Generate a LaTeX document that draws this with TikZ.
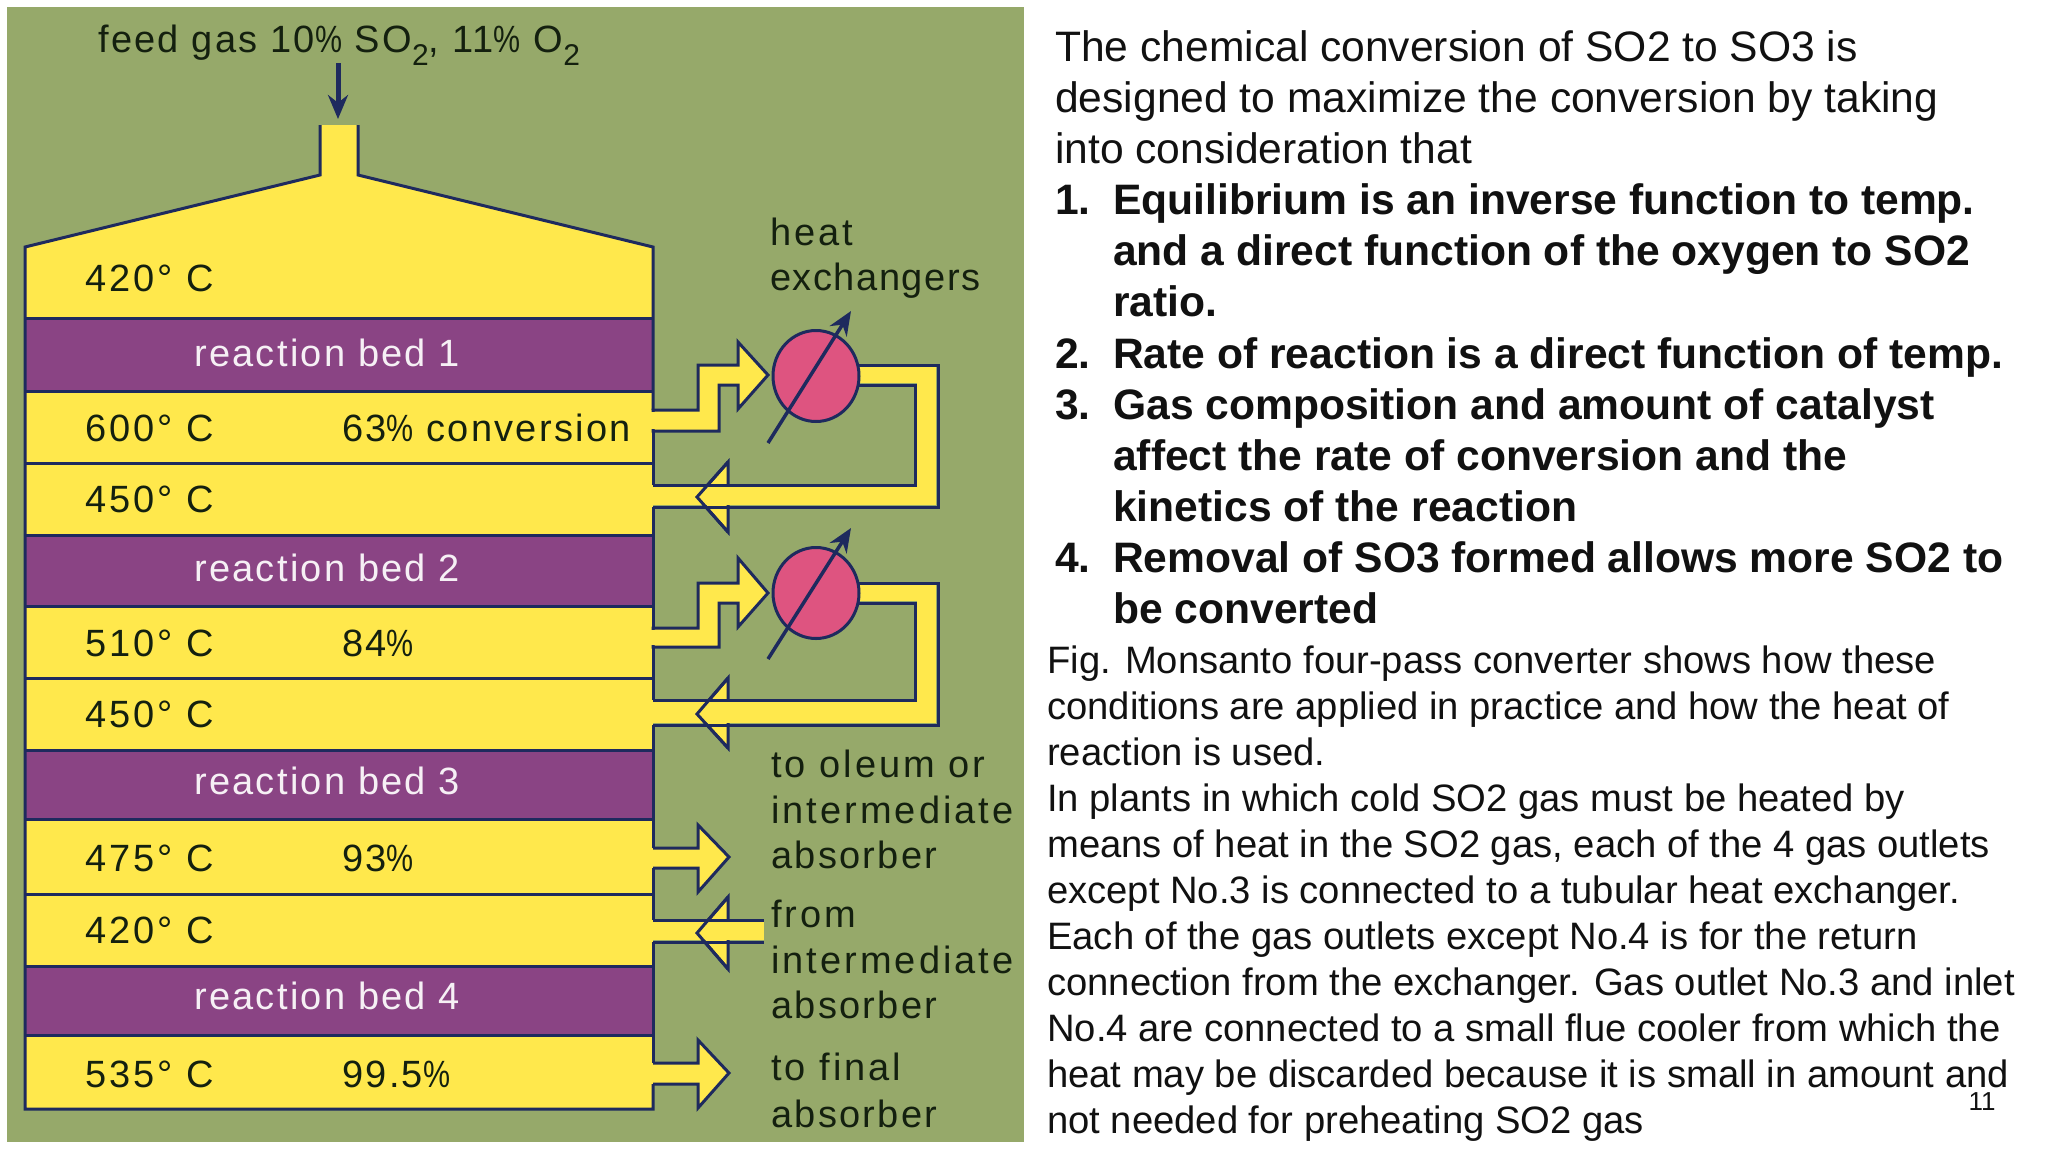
\documentclass[tikz,border=0pt]{standalone}
\usepackage{fontspec}
\setmainfont{Liberation Sans}
\newfontfamily\pixfont[LetterSpace=6]{Liberation Sans}
\newfontfamily\pixwidefont[LetterSpace=8]{Liberation Sans}
\newfontfamily\pixtightfont[LetterSpace=4]{Liberation Sans}
\newcommand{\pctsign}{\scalebox{.8}[1]{\%}}
\usetikzlibrary{arrows.meta,shapes.geometric}
\definecolor{bggreen}{HTML}{96A96A}
\definecolor{gasyellow}{HTML}{FFE84C}
\definecolor{bedpurple}{HTML}{8A4484}
\definecolor{hxpink}{HTML}{DE5480}
\definecolor{navy}{HTML}{1E2A5E}
\definecolor{pixink}{HTML}{14200F}
\definecolor{bodyink}{HTML}{111111}
\tikzset{
  x=1pt,y=-1pt,
  edge/.style={draw=navy,line width=3pt,line join=miter},
  gas/.style={fill=gasyellow,draw=none},
  head/.style={fill=gasyellow,draw=navy,line width=3pt,line join=miter},
  pix/.style={inner sep=0,anchor=base west,text=pixink,font=\pixfont\fontsize{38}{38}\selectfont},
  pixwide/.style={pix,font=\pixwidefont\fontsize{38}{38}\selectfont},
  pixtight/.style={pix,font=\pixtightfont\fontsize{38}{38}\selectfont},
  pixw/.style={pix,text=white!92!bedpurple},
  lead/.style={inner sep=0,anchor=base west,text=bodyink,font=\fontsize{42.6}{42.6}\selectfont},
  leadb/.style={lead,font=\bfseries\fontsize{42.6}{42.6}\selectfont},
  para/.style={inner sep=0,anchor=base west,text=bodyink,font=\fontsize{38.2}{38.2}\selectfont},
  hxcircle/.style={draw=navy,line width=3pt,fill=hxpink,ellipse,minimum width=86pt,minimum height=91pt,inner sep=0},
  probe/.style={draw=navy,line width=3.5pt,-{Stealth[length=24pt,width=20pt]}},
  feed/.style={draw=navy,line width=5pt,-{Stealth[length=24pt,width=20pt]}}
}
\begin{document}
\begin{tikzpicture}
\useasboundingbox (0,0) rectangle (2048,1152);
\fill[white] (0,0) rectangle (2048,1152);
\fill[bggreen] (7,7) rectangle (1024,1142);
% vessel
\fill[gasyellow] (25,1109) -- (25,247) -- (320,175) -- (320,125) -- (358,125) -- (358,175) -- (653,247) -- (653,1109) -- cycle;
\foreach \a/\b in {318/391,535/606,750/819,966/1035}
  \fill[bedpurple] (25,\a) rectangle (653,\b);
% outlet pipe 1
\filldraw[head] (738,365) -- (738,342) -- (768,375) -- (738,409) -- (738,385) -- (719,385) -- (719,431) -- (653,431) -- (653,410) -- (698,410) -- (698,365) -- cycle;
\fill[gas] (650,412) rectangle (717,429);
% return pipe 1
\draw[head] (728,462) -- (697,497) -- (728,532) -- cycle;
\fill[gas] (650,487) rectangle (936,505);
\fill[gas] (917,367) rectangle (936,505);
\fill[gas] (850,367) rectangle (917,383);
\draw[edge] (858,365) -- (938,365) -- (938,507) -- (653,507);
\draw[edge] (858,385) -- (915,385) -- (915,485) -- (653,485);
\draw[edge] (728,462) -- (697,497) -- (728,532);
\fill[gas] (712,487) rectangle (732,505);
% exchanger 1
\node[hxcircle] (hx1) at (816,376) {};
\coordinate (p1a) at (768,443); \coordinate (p1b) at (851,311);
\draw[probe] (p1a) -- (p1b);
% outlet pipe 2
\filldraw[head] (738,583) -- (738,558) -- (768,593) -- (738,627) -- (738,603) -- (719,603) -- (719,647) -- (653,647) -- (653,628) -- (698,628) -- (698,583) -- cycle;
\fill[gas] (650,630) rectangle (717,645);
% return pipe 2
\draw[head] (728,678) -- (697,714) -- (728,748) -- cycle;
\fill[gas] (650,702) rectangle (936,723);
\fill[gas] (917,585) rectangle (936,723);
\fill[gas] (850,585) rectangle (917,601);
\draw[edge] (858,583) -- (938,583) -- (938,725) -- (653,725);
\draw[edge] (858,603) -- (915,603) -- (915,700) -- (653,700);
\draw[edge] (728,678) -- (697,714) -- (728,748);
\fill[gas] (712,702) rectangle (732,723);
% exchanger 2
\node[hxcircle] (hx2) at (816,593) {};
\coordinate (p2a) at (768,659); \coordinate (p2b) at (851,528);
\draw[probe] (p2a) -- (p2b);
% outlet to oleum
\filldraw[head] (653,848) -- (698,848) -- (698,825) -- (729,857) -- (698,892) -- (698,868) -- (653,868);
\fill[gas] (650,850) rectangle (700,866);
% from absorber
\draw[head] (728,897) -- (697,933) -- (728,969) -- cycle;
\fill[gas] (650,922) rectangle (764,940);
\draw[edge] (653,920) -- (764,920);
\draw[edge] (653,942) -- (764,942);
\draw[edge] (728,897) -- (697,933) -- (728,969);
\fill[gas] (712,922) rectangle (764,940);
% outlet to final
\filldraw[head] (653,1063) -- (698,1063) -- (698,1040) -- (729,1073) -- (698,1108) -- (698,1084) -- (653,1084);
\fill[gas] (650,1065) rectangle (700,1082);
% vessel outlines
\draw[edge] (653,410) -- (653,247) -- (358,175) -- (358,125);
\draw[edge] (320,125) -- (320,175) -- (25,247) -- (25,1109) -- (653,1109) -- (653,1084);
\draw[edge] (653,1063) -- (653,942);
\draw[edge] (653,920) -- (653,868);
\draw[edge] (653,848) -- (653,725);
\draw[edge] (653,700) -- (653,647);
\draw[edge] (653,628) -- (653,507);
\draw[edge] (653,485) -- (653,431);
\foreach \ly in {318,391,463,535,606,678,750,819,894,966,1035}
  \draw[edge] (25,\ly) -- (653,\ly);
% feed arrow
\coordinate (feedA) at (338,63); \coordinate (feedB) at (338,119);
\draw[feed] (feedA) -- (feedB);
% labels in the vessel
\node[pix] (feedlabel) at (98,52) {feed gas 10\pctsign{} SO\raisebox{-13pt}{\fontsize{30}{30}\selectfont 2}, 11\pctsign{} O\raisebox{-13pt}{\fontsize{30}{30}\selectfont 2}};
\node[pixwide] (t420a) at (85,291) {420° C};
\node[pixw] (bed1) at (194,366) {reaction bed 1};
\node[pixwide] (t600) at (85,441) {600° C};
\node[pix] (c63) at (342,441) {63\pctsign{} conversion};
\node[pixwide] (t450a) at (85,512) {450° C};
\node[pixw] (bed2) at (194,581) {reaction bed 2};
\node[pixwide] (t510) at (85,656) {510° C};
\node[pix] (c84) at (342,656) {84\pctsign};
\node[pixwide] (t450b) at (85,727) {450° C};
\node[pixw] (bed3) at (194,794) {reaction bed 3};
\node[pixwide] (t475) at (85,871) {475° C};
\node[pix] (c93) at (342,871) {93\pctsign};
\node[pixwide] (t420b) at (85,943) {420° C};
\node[pixw] (bed4) at (194,1009) {reaction bed 4};
\node[pixwide] (t535) at (85,1087) {535° C};
\node[pix] (c995) at (342,1087) {99.5\pctsign};
\node[pixwide] (heat1) at (770,245) {heat};
\node[pixtight] (heat2) at (770,290) {exchangers};
\node[pixwide] (o1) at (771,777) {to oleum or};
\node[pixwide] (o2) at (771,823) {intermediate};
\node[pix] (o3) at (771,868) {absorber};
\node[pixwide] (f1) at (771,927) {from};
\node[pixwide] (f2) at (771,973) {intermediate};
\node[pix] (f3) at (771,1018) {absorber};
\node[pixwide] (e1) at (771,1080) {to final};
\node[pix] (e2) at (771,1127) {absorber};
% right text, lead
\node[lead] (l1) at (1055,61) {The chemical conversion of SO2 to SO3 is};
\node[lead] (l2) at (1055,112) {designed to maximize the conversion by taking};
\node[lead] (l3) at (1055,163) {into consideration that};
\node[leadb] (n1) at (1055,214) {1.};
\node[leadb] (l4) at (1113,214) {Equilibrium is an inverse function to temp.};
\node[leadb] (l5) at (1113,265) {and a direct function of the oxygen to SO2};
\node[leadb] (l6) at (1113,316) {ratio.};
\node[leadb] (n2) at (1055,368) {2.};
\node[leadb] (l7) at (1113,368) {Rate of reaction is a direct function of temp.};
\node[leadb] (n3) at (1055,419) {3.};
\node[leadb] (l8) at (1113,419) {Gas composition and amount of catalyst};
\node[leadb] (l9) at (1113,470) {affect the rate of conversion and the};
\node[leadb] (l10) at (1113,521) {kinetics of the reaction};
\node[leadb] (n4) at (1055,572) {4.};
\node[leadb] (l11) at (1113,572) {Removal of SO3 formed allows more SO2 to};
\node[leadb] (l12) at (1113,623) {be converted};
% right text, paragraph
\node[para] (p1) at (1047,673) {Fig. Monsanto four-pass converter shows how these};
\node[para] (p2) at (1047,719) {conditions are applied in practice and how the heat of};
\node[para] (p3) at (1047,765) {reaction is used.};
\node[para] (p4) at (1047,811) {In plants in which cold SO2 gas must be heated by};
\node[para] (p5) at (1047,857) {means of heat in the SO2 gas, each of the 4 gas outlets};
\node[para] (p6) at (1047,903) {except No.3 is connected to a tubular heat exchanger.};
\node[para] (p7) at (1047,949) {Each of the gas outlets except No.4 is for the return};
\node[para] (p8) at (1047,995) {connection from the exchanger. Gas outlet No.3 and inlet};
\node[para] (p9) at (1047,1041) {No.4 are connected to a small flue cooler from which the};
\node[para] (p10) at (1047,1087) {heat may be discarded because it is small in amount and};
\node[para] (p11) at (1047,1133) {not needed for preheating SO2 gas};
\node[inner sep=0,anchor=base,text=bodyink,font=\fontsize{26}{26}\selectfont] (pnum) at (1982,1110) {11};
\end{tikzpicture}
\end{document}
